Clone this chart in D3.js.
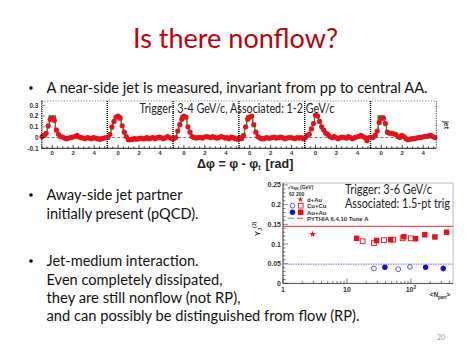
<!DOCTYPE html>
<html><head><meta charset="utf-8">
<script src="https://cdn.jsdelivr.net/npm/d3@7"></script>
<style>body{margin:0;background:#fff}svg{display:block}</style>
</head><body>
<svg id="c" width="474" height="355"></svg>
<script>
// ---------------- data ----------------
const titleText = "Is there nonflow?";
const bulletLines = [
  {text:"A near-side jet is measured, invariant from pp to central AA.", bullet:true},
  {text:"Away-side jet partner", bullet:true},
  {text:"initially present (pQCD).", bullet:false},
  {text:"Jet-medium interaction.", bullet:true},
  {text:"Even completely dissipated,", bullet:false},
  {text:"they are still nonflow (not RP),", bullet:false},
  {text:"and can possibly be distinguished from flow (RP).", bullet:false}
];
const topLabel = "Trigger: 3-4 GeV/c, Associated: 1-2 GeV/c";
const dphi = [-0.98,-0.785,-0.59,-0.39,-0.196,0,0.196,0.39,0.59,0.785,0.98,1.18,1.37,1.57,1.77,1.96,
              2.16,2.36,2.55,2.75,2.95,3.14,3.34,3.53,3.73,3.93,4.12,4.32,4.52,4.71,4.91,5.11];
const red1 = [0.01,0.02,0.04,0.11,0.17,0.18,0.16,0.07,0.03,0.01,0.005,-0.005,-0.01,-0.005,0,0.005,0.01,0.02,0.005,0,-0.005,-0.01,0,-0.005,-0.01,0,-0.005,-0.01,-0.015,-0.01,-0.005,0];
const red2 = [0.0,0.03,0.1,0.15,0.19,0.2,0.18,0.11,0.05,0.01,-0.02,-0.02,-0.015,-0.01,-0.015,-0.01,-0.005,-0.01,-0.01,0,-0.01,-0.005,0,-0.01,0,0.005,0,-0.01,0,0.01,0,-0.01];
const red3 = [-0.01,0.0,0.06,0.12,0.17,0.2,0.19,0.1,0.05,0.01,0,-0.005,0,0,-0.005,0.005,0.01,0.005,0,0.01,0,-0.005,0,0.01,0.005,-0.005,0,-0.01,0.005,0,-0.01,-0.015];
const red4 = [0.0,-0.01,0.02,0.1,0.17,0.19,0.2,0.12,0.05,0.01,-0.005,-0.01,-0.01,0,-0.005,-0.005,0,0.005,-0.005,0,0.005,0,-0.01,-0.005,0,0,-0.005,-0.01,0,-0.005,0,-0.01];
const red5 = [0.0,0.02,0.03,0.08,0.13,0.21,0.2,0.15,0.1,0.07,0.04,0.03,0.01,0.0,0.01,0.0,-0.01,0.0,0.005,0.0,-0.005,0.01,0.0,-0.01,0.0,0.005,0.01,0.02,0.01,0.0,-0.03,0.0];
const red6 = [0.0,0.0,0.02,0.06,0.14,0.18,0.18,0.13,0.05,0.04,0.04,0.035,0.03,0.01,0.0,0.02,0.01,-0.01,-0.02,-0.015,-0.01,-0.01,-0.005,0,0.0,0.005,0.01,0.01,0.015,0.02,0.01,0.0];
const green1 = [0.01,0.02,0.03,0.09,0.2,0.2,0.2,0.06,0.02,0.01,0,0,0,0,0,0,0.01,0.01,0,0,0,0,0,0,0,0,0,-0.01,-0.01,-0.01,0,0];
const green2 = [0.0,0.02,0.08,0.14,0.2,0.2,0.2,0.1,0.04,0.0,-0.01,-0.01,-0.01,-0.01,-0.01,-0.01,0,-0.01,-0.01,0,-0.01,0,0,-0.01,0,0,0,-0.01,0,0.01,0,0];
const green3 = [-0.01,0.0,0.05,0.11,0.2,0.2,0.2,0.09,0.04,0.01,0,0,0,0,0,0,0.01,0,0,0.01,0,0,0,0.01,0,0,0,-0.01,0,0,-0.01,-0.01];
const green4 = [0.0,-0.01,0.02,0.09,0.2,0.2,0.2,0.11,0.04,0.01,0,-0.01,-0.01,0,0,0,0,0,0,0,0,0,-0.01,0,0,0,0,-0.01,0,0,0,-0.01];
const green5 = [0.0,0.02,0.03,0.07,0.12,0.2,0.2,0.14,0.09,0.06,0.04,0.02,0.01,0.0,0.01,0.0,-0.01,0.0,0.0,0.0,0.0,0.01,0.0,-0.01,0.0,0.0,0.01,0.02,0.01,0.0,-0.02,0.0];
const green6 = [0.0,0.0,0.02,0.05,0.2,0.2,0.2,0.12,0.04,0.03,0.03,0.03,0.02,0.01,0.0,0.01,0.01,-0.01,-0.02,-0.01,-0.01,-0.01,0,0,0,0,0.01,0.01,0.01,0.02,0.01,0];
const redPanels = [red1,red2,red3,red4,red5,red6];
const greenPanels = [green1,green2,green3,green4,green5,green6];
const topYTicks = [-0.1,0,0.1,0.2,0.3];
const topYTickLabels = ["-0.1","0","0.1","0.2","0.3"];
const topXTicks = [0,2,4];

// right chart
const rightTrig = "Trigger: 3-6 GeV/c";
const rightAssoc = "Associated: 1.5-pt trig";
const dauN = [2.9], dauY = [0.125];
const auau200N = [14.2,29.1,48.2,77.7,118,165,237,361];
const auau200Y = [0.1145,0.109,0.111,0.1185,0.1135,0.1236,0.118,0.130];
const cucu200N = [17.6,26.4,37.9,52.8,74.2,100];
const cucu200Y = [0.107,0.1025,0.110,0.111,0.1145,0.1145];
const cucu62N = [26.4,63.3,96.5];
const cucu62Y = [0.038,0.036,0.042];
const auau62N = [39.2,170,320];
const auau62Y = [0.041,0.041,0.038];
const auau62Err = [0.002,0.002,0.008];
const pythia200 = 0.145, pythia62 = 0.049;
const rightYTicks = [0,0.05,0.1,0.15,0.2,0.25];
const rightYTickLabels = ["0","0.05","0.1","0.15","0.2","0.25"];
const rightXTicks = [1,10,100];

// ---------------- drawing ----------------
const svg = d3.select("#c");
svg.append("rect").attr("width",474).attr("height",355).attr("fill","#fff");
const bodyFont = "Lato, 'Open Sans', sans-serif";
const RED = "#e8111b", BLUE = "#0a10e0";

// title
svg.append("text").attr("x",133).attr("y",48).attr("font-family",bodyFont)
  .attr("font-size",27).attr("fill","#c0000a").attr("textLength",205)
  .attr("lengthAdjust","spacingAndGlyphs").text(titleText);

// bullet text
const lineY = [93,200,219,266,284.5,302.5,320.5];
const lineW = [381,136,152,152,176,194,313];
bulletLines.forEach((l,i)=>{
  if(l.bullet) svg.append("circle").attr("cx",31).attr("cy",lineY[i]-5).attr("r",1.8).attr("fill","#111");
  svg.append("text").attr("x",46.5).attr("y",lineY[i]).attr("font-family",bodyFont)
    .attr("font-size",15.5).attr("fill","#111").attr("textLength",lineW[i])
    .attr("lengthAdjust","spacingAndGlyphs").text(l.text);
});
svg.append("text").attr("x",441).attr("y",340).attr("font-family",bodyFont)
  .attr("font-size",7).attr("fill","#999").attr("text-anchor","middle").text("20");

// ----- top multi-panel -----
const pX0 = 41.5, pW = 65.8, pTop = 101, pBot = 148.3;
const yT = d3.scaleLinear().domain([-0.1,0.34]).range([pBot,pTop]);
const axisFont = "Arial, 'Liberation Sans', sans-serif";
const topG = svg.append("g");
redPanels.forEach((vals,p)=>{
  const x0 = pX0 + p*pW;
  const xT = d3.scaleLinear().domain([-1.03,5.25]).range([x0,x0+pW]);
  const g = topG.append("g");
  g.append("line").attr("x1",x0).attr("x2",x0+pW).attr("y1",yT(0)).attr("y2",yT(0))
    .attr("stroke","#555").attr("stroke-width",0.8).attr("stroke-dasharray","3,2");
  d3.range(-1,5.5,0.5).forEach(t=>{
    const major = topXTicks.includes(t);
    g.append("line").attr("x1",xT(t)).attr("x2",xT(t)).attr("y1",pBot).attr("y2",pBot-(major?3.5:2))
      .attr("stroke","#000").attr("stroke-width",0.7);
  });
  topXTicks.forEach(t=>{
    g.append("text").attr("x",xT(t)).attr("y",154.5).attr("text-anchor","middle")
      .attr("font-family",axisFont).attr("font-size",6).attr("font-weight","bold").attr("fill","#333").text(t);
  });
  const line = d3.line().x((d,i)=>xT(dphi[i])).y(d=>yT(d)).curve(d3.curveStep);
  g.append("path").attr("d",line(greenPanels[p])).attr("fill","none").attr("stroke","#1c8c22").attr("stroke-width",1.4);
  g.selectAll("circle.pt").data(vals).join("circle").attr("class","pt")
    .attr("cx",(d,i)=>xT(dphi[i])).attr("cy",d=>yT(d)).attr("r",2.6).attr("fill",RED);
  g.append("line").attr("x1",x0).attr("x2",x0).attr("y1",pTop).attr("y2",pBot)
    .attr("stroke","#000").attr("stroke-width",p===0?0.8:1.4).attr("stroke-dasharray",p===0?"1.2,1.2":"1,1");
});
const pX1 = pX0 + 6*pW;
topG.append("line").attr("x1",pX1).attr("x2",pX1).attr("y1",pTop).attr("y2",pBot)
  .attr("stroke","#000").attr("stroke-width",0.8).attr("stroke-dasharray","1.2,1.2");
topG.append("line").attr("x1",pX0).attr("x2",pX1).attr("y1",pTop).attr("y2",pTop)
  .attr("stroke","#666").attr("stroke-width",0.8).attr("stroke-dasharray","1.2,1.6");
topG.append("line").attr("x1",pX0).attr("x2",pX1).attr("y1",pBot).attr("y2",pBot)
  .attr("stroke","#000").attr("stroke-width",0.9);
d3.range(-0.1,0.341,0.02).forEach(t=>{
  const major = Math.abs(Math.round(t*10)-t*10)<1e-6;
  topG.append("line").attr("x1",pX0).attr("x2",pX0+(major?3:1.6)).attr("y1",yT(t)).attr("y2",yT(t))
    .attr("stroke","#000").attr("stroke-width",0.6);
});
topYTicks.forEach((t,i)=>{
  topG.append("text").attr("x",pX0-3).attr("y",yT(t)+2.3).attr("text-anchor","end")
    .attr("font-family",axisFont).attr("font-size",6.5).attr("font-weight","bold").attr("fill","#333").text(topYTickLabels[i]);
});
topG.append("text").attr("x",139.5).attr("y",112.5).attr("font-family",bodyFont).attr("font-size",12.5)
  .attr("fill","#222").attr("textLength",195).attr("lengthAdjust","spacingAndGlyphs").text(topLabel);
topG.append("text").attr("transform","translate(444,125) rotate(90)").attr("text-anchor","middle")
  .attr("font-family",axisFont).attr("font-size",7).attr("font-weight","bold").attr("fill","#333").text("jet");
const xl = topG.append("text").attr("x",197).attr("y",167.5).attr("font-family",axisFont)
  .attr("font-size",12.5).attr("font-weight","bold").attr("fill","#222");
xl.append("tspan").text("\u0394\u03c6 = \u03c6 - \u03c6");
xl.append("tspan").attr("font-size",7).attr("dy",2.5).text("t");
xl.append("tspan").attr("dy",-2.5).attr("dx",5).text("[rad]");

// ----- right chart -----
const rx0 = 283, rx1 = 453, ry0 = 283.4, ry1 = 183;
const xR = d3.scaleLog().domain([1,455]).range([rx0,rx1]);
const yR = d3.scaleLinear().domain([0,0.255]).range([ry0,ry1]);
const rg = svg.append("g");
rg.append("rect").attr("x",rx0).attr("y",ry1).attr("width",rx1-rx0).attr("height",ry0-ry1)
  .attr("fill","none").attr("stroke","#888").attr("stroke-width",0.6);
rg.append("line").attr("x1",rx0).attr("x2",rx1).attr("y1",ry0).attr("y2",ry0).attr("stroke","#333").attr("stroke-width",0.8);
rg.append("line").attr("x1",rx0).attr("x2",rx0).attr("y1",ry0).attr("y2",ry1).attr("stroke","#333").attr("stroke-width",0.8);
d3.range(0,0.2551,0.01).forEach(t=>{
  const major = Math.abs(Math.round(t*20)-t*20)<1e-6;
  rg.append("line").attr("x1",rx0).attr("x2",rx0+(major?5:2.5)).attr("y1",yR(t)).attr("y2",yR(t))
    .attr("stroke","#333").attr("stroke-width",0.6);
});
rightYTicks.forEach((t,i)=>{
  rg.append("text").attr("x",rx0-2).attr("y",yR(t)+2.5).attr("text-anchor","end")
    .attr("font-family",axisFont).attr("font-size",7).attr("font-weight","bold").attr("fill","#333").text(rightYTickLabels[i]);
});
[1,10,100].forEach(dec=>{
  for(let k=1;k<10;k++){
    const v = dec*k; if(v>455) break;
    const major = k===1;
    rg.append("line").attr("x1",xR(v)).attr("x2",xR(v)).attr("y1",ry0).attr("y2",ry0-(major?5:2.5))
      .attr("stroke","#333").attr("stroke-width",0.6);
  }
});
rightXTicks.forEach(t=>{
  const tx = rg.append("text").attr("x",xR(t)).attr("y",292).attr("text-anchor","middle")
    .attr("font-family",axisFont).attr("font-size",7).attr("font-weight","bold").attr("fill","#333");
  if(t===100){ tx.append("tspan").text("10"); tx.append("tspan").attr("font-size",5).attr("dy",-3).text("2"); }
  else tx.text(t);
});
const nl = rg.append("text").attr("x",440).attr("y",297).attr("text-anchor","middle")
  .attr("font-family",axisFont).attr("font-size",6.5).attr("font-weight","bold").attr("fill","#333");
nl.append("tspan").text("<N");
nl.append("tspan").attr("font-size",4.5).attr("dy",1.5).text("part");
nl.append("tspan").attr("dy",-1.5).text(">");
const yl = rg.append("text").attr("transform","translate(260,229) rotate(-90)").attr("text-anchor","middle")
  .attr("font-family",axisFont).attr("font-size",8).attr("font-weight","bold").attr("fill","#333");
yl.append("tspan").text("Y");
yl.append("tspan").attr("font-size",5).attr("dy",2).text("J");
yl.append("tspan").attr("font-size",5).attr("dy",-6).text("(J)");
rg.append("line").attr("x1",rx0).attr("x2",rx1).attr("y1",yR(pythia200)).attr("y2",yR(pythia200))
  .attr("stroke","#f0505a").attr("stroke-width",1.2);
rg.append("line").attr("x1",rx0).attr("x2",rx1).attr("y1",yR(pythia62)).attr("y2",yR(pythia62))
  .attr("stroke","#8a8ae8").attr("stroke-width",1.2).attr("stroke-dasharray","1.5,1");
const sq = 5.5;
rg.selectAll("rect.aa").data(auau200N).join("rect").attr("class","aa")
  .attr("x",d=>xR(d)-sq/2).attr("y",(d,i)=>yR(auau200Y[i])-sq/2).attr("width",sq).attr("height",sq).attr("fill",RED);
rg.selectAll("rect.cu").data(cucu200N).join("rect").attr("class","cu")
  .attr("x",d=>xR(d)-2.4).attr("y",(d,i)=>yR(cucu200Y[i])-2.4).attr("width",4.8).attr("height",4.8)
  .attr("fill","none").attr("stroke",RED).attr("stroke-width",0.9);
rg.selectAll("path.da").data(dauN).join("path").attr("class","da")
  .attr("transform",(d,i)=>`translate(${xR(d)},${yR(dauY[i])})`)
  .attr("d",d3.symbol(d3.symbolStar,14)()).attr("fill",RED);
rg.selectAll("line.err").data(auau62N).join("line").attr("class","err")
  .attr("x1",d=>xR(d)).attr("x2",d=>xR(d)).attr("y1",(d,i)=>yR(auau62Y[i]-auau62Err[i]))
  .attr("y2",(d,i)=>yR(auau62Y[i]+auau62Err[i])).attr("stroke",BLUE).attr("stroke-width",0.7);
rg.selectAll("circle.a62").data(auau62N).join("circle").attr("class","a62")
  .attr("cx",d=>xR(d)).attr("cy",(d,i)=>yR(auau62Y[i])).attr("r",2.7).attr("fill",BLUE);
rg.selectAll("circle.c62").data(cucu62N).join("circle").attr("class","c62")
  .attr("cx",d=>xR(d)).attr("cy",(d,i)=>yR(cucu62Y[i])).attr("r",2.4)
  .attr("fill","none").attr("stroke","#4a4ae8").attr("stroke-width",0.9);
const lf = (x,y,t,s)=>rg.append("text").attr("x",x).attr("y",y).attr("font-family",axisFont)
  .attr("font-size",s||6).attr("font-weight","bold").attr("fill","#333").text(t);
const sh = rg.append("text").attr("x",288).attr("y",188.5).attr("font-family",axisFont)
  .attr("font-size",5).attr("font-weight","bold").attr("fill","#333");
sh.append("tspan").text("\u221as");
sh.append("tspan").attr("font-size",3.5).attr("dy",1).text("NN");
sh.append("tspan").attr("dy",-1).text(" (GeV)");
lf(289,195.5,"62  200",5);
rg.append("path").attr("transform","translate(300.5,199.5)").attr("d",d3.symbol(d3.symbolStar,10)()).attr("fill",RED);
lf(307,201.5,"d+Au");
rg.append("circle").attr("cx",292.5).attr("cy",205.7).attr("r",2.4).attr("fill","none").attr("stroke","#4a4ae8").attr("stroke-width",0.9);
rg.append("rect").attr("x",298.3).attr("y",203.3).attr("width",4.8).attr("height",4.8).attr("fill","none").attr("stroke",RED).attr("stroke-width",0.9);
lf(307,208,"Cu+Cu");
rg.append("circle").attr("cx",292.5).attr("cy",212.3).attr("r",2.7).attr("fill",BLUE);
rg.append("rect").attr("x",298).attr("y",209.5).attr("width",5.5).attr("height",5.5).attr("fill",RED);
lf(307,214.5,"Au+Au");
rg.append("line").attr("x1",288).attr("x2",294).attr("y1",218.3).attr("y2",218.3).attr("stroke","#8a8ae8").attr("stroke-width",1.2);
rg.append("line").attr("x1",297).attr("x2",303).attr("y1",218.3).attr("y2",218.3).attr("stroke","#f0505a").attr("stroke-width",1.2);
lf(307,220.5,"PYTHIA 6.4.10 Tune A");
rg.append("text").attr("x",345).attr("y",193.5).attr("font-family",bodyFont).attr("font-size",12.5)
  .attr("fill","#222").attr("textLength",87).attr("lengthAdjust","spacingAndGlyphs").text(rightTrig);
rg.append("text").attr("x",345).attr("y",208).attr("font-family",bodyFont).attr("font-size",12.5)
  .attr("fill","#222").attr("textLength",105).attr("lengthAdjust","spacingAndGlyphs").text(rightAssoc);
</script>
</body></html>
